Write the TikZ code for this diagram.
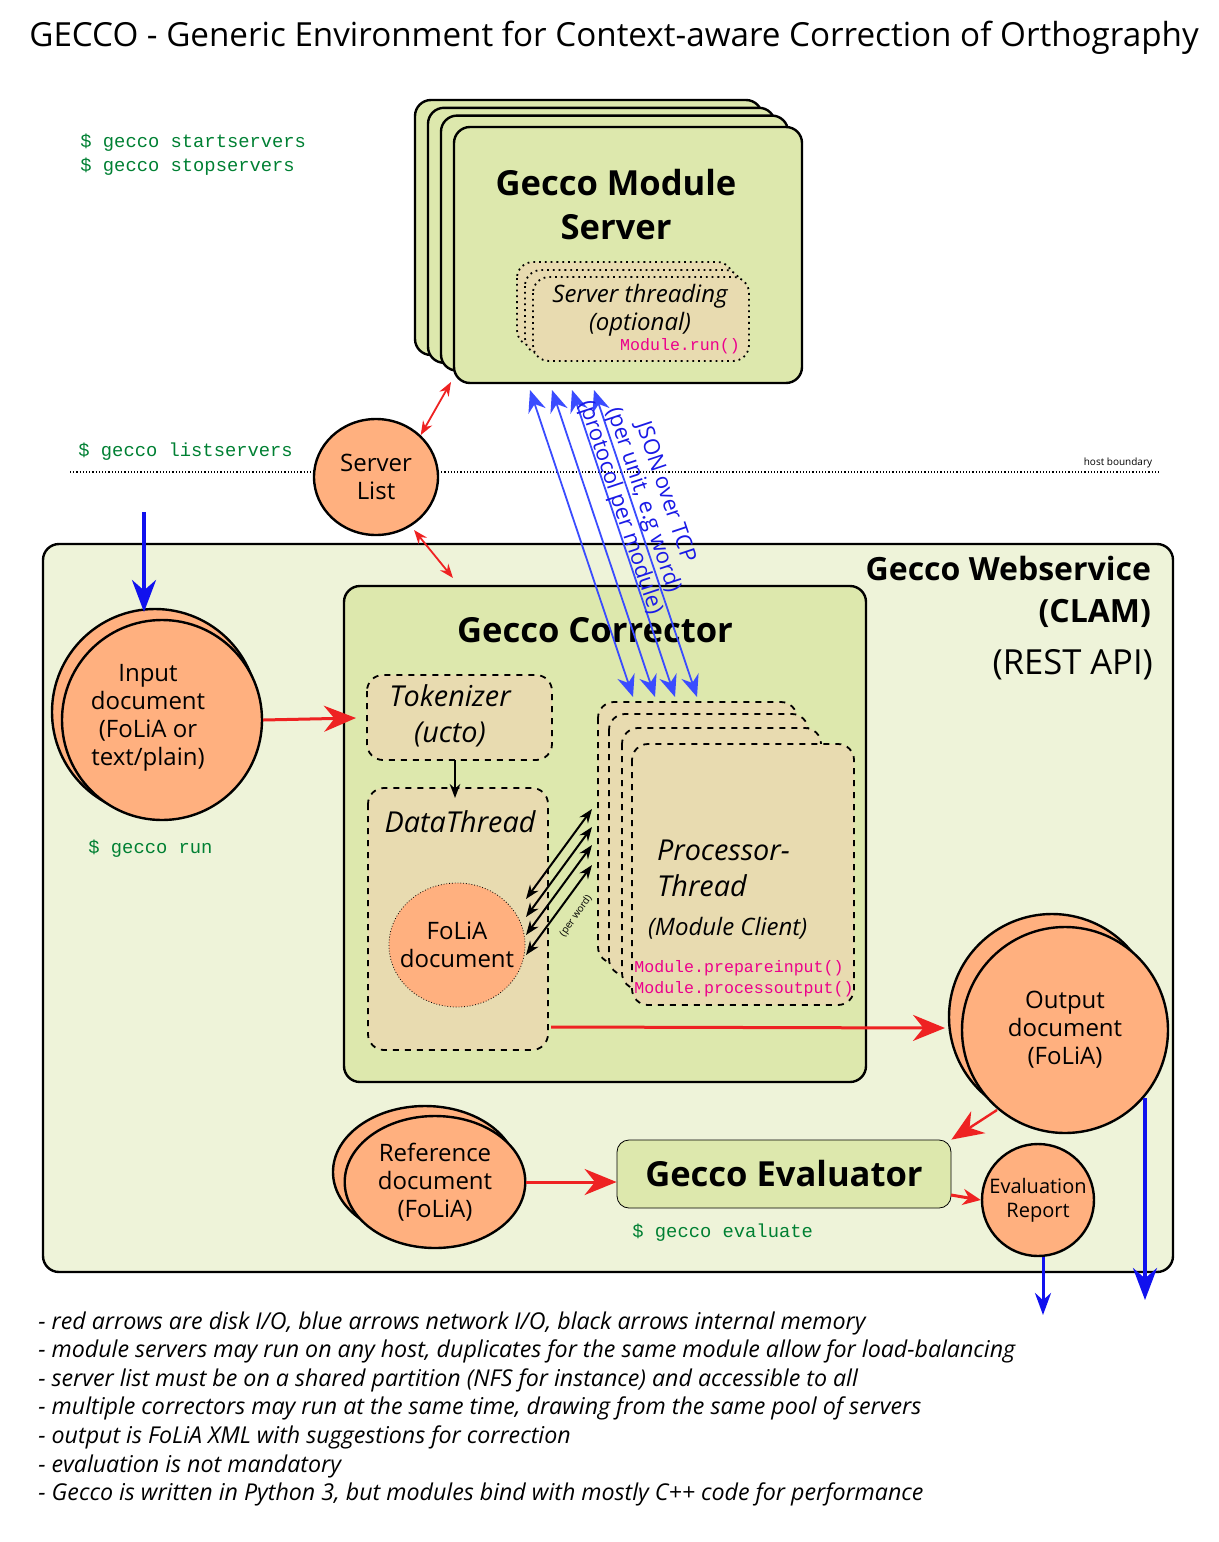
\documentclass[tikz,border=0pt]{standalone}
\usepackage{fontspec}
\setmainfont{Open Sans}
\setmonofont{Liberation Mono}
\usetikzlibrary{positioning,calc,arrows,arrows.meta,shapes.geometric}
\definecolor{wsbg}{HTML}{EEF3D9}
\definecolor{boxgreen}{HTML}{DDE8AD}
\definecolor{tan}{HTML}{E8DBB0}
\definecolor{docorange}{HTML}{FFB07F}
\definecolor{cmdgreen}{HTML}{008033}
\definecolor{netblue}{HTML}{3A4CFF}
\definecolor{lblblue}{HTML}{1A1AE6}
\definecolor{bigblue}{HTML}{1111EE}
\definecolor{diskred}{HTML}{EE2222}
\tikzset{
	box/.style={draw, line width=1.2pt, rounded corners=8pt},
	thread/.style={draw, dashed, line width=0.9pt, fill=tan, rounded corners=8pt},
	doc/.style={draw, line width=1.2pt, fill=docorange},
	cmd/.style={text=cmdgreen, font=\ttfamily\fontsize{9.4}{11}\selectfont, anchor=west, inner sep=0pt},
	call/.style={text=magenta, font=\ttfamily\fontsize{8.3}{10.4}\selectfont, inner sep=0pt},
	netlbl/.style={text=lblblue, rotate=-71.5, font=\fontsize{11}{13}\selectfont},
	disk/.style={diskred, line width=1.5pt, -{Stealth[length=16pt,width=13pt]}},
	diskthin/.style={diskred, line width=0.9pt, {Stealth[length=7pt]}-{Stealth[length=7pt]}},
	net/.style={netblue, line width=0.9pt, {Stealth[length=11pt,width=9pt]}-{Stealth[length=11pt,width=9pt]}},
	netbig/.style={bigblue, line width=2pt, -{Stealth[length=16pt,width=12pt]}},
	mem/.style={black, line width=1pt, {Stealth[length=7pt]}-{Stealth[length=7pt]}},
}
\begin{document}
\begin{tikzpicture}[x=0.5pt, y=-0.5pt]
	\useasboundingbox (0,0) rectangle (1219,1542);
	\node[font=\fontsize{16.6}{20}\selectfont] (title) at (614,38) {GECCO - Generic Environment for Context-aware Correction of Orthography};

	% commands
	\node[cmd] (startcmd) at (80,143) {\$ gecco startservers};
	\node[cmd] (stopcmd) at (80,167) {\$ gecco stopservers};
	\node[cmd] (listcmd) at (78,452) {\$ gecco listservers};

	% module servers
	\foreach \d in {0,13,26} {
		\filldraw[box, fill=boxgreen] (415+\d,100+\d*0.6) rectangle (762+\d,355+\d*0.6);
	}
	\filldraw[box, fill=boxgreen] (454,127) rectangle (802,383);
	\node[font=\LARGE\bfseries, align=center] (modsrv) at (616,205) {Gecco Module\\Server};
	\foreach \d in {0,8} {
		\filldraw[thread, dotted] (517+\d,262+\d) rectangle (733+\d,346+\d);
	}
	\filldraw[thread, dotted] (533,277) rectangle (749,361);
	\node[font=\large\itshape, align=center] (srvthread) at (640,310) {Server threading\\(optional)};
	\node[call] (modrun) at (680,346) {Module.run()};

	% host boundary
	\draw[densely dotted, line width=0.6pt] (70,472) -- (1160,472);
	\node[font=\tiny] (hostlbl) at (1118,463) {host boundary};

	% webservice
	\filldraw[box, fill=wsbg] (43,544) rectangle (1173,1272);
	\node[font=\fontsize{16}{21}\selectfont\bfseries, align=right, anchor=north east] (ws) at (1158,549) {Gecco Webservice\\(CLAM)};
	\node[font=\LARGE, anchor=east] (rest) at (1160,665) {(REST API)};

	% server list
	\node[doc, ellipse, minimum width=62pt, minimum height=58pt, align=center, font=\large] (slist) at (376,477) {Server\\List};

	% corrector
	\filldraw[box, fill=boxgreen] (344,586) rectangle (866,1082);
	\node[font=\LARGE\bfseries] (corr) at (595,630) {Gecco Corrector};
	\filldraw[thread] (367,675) rectangle (552,760);
	\node[font=\Large\itshape, align=center] (tok) at (450,716) {Tokenizer\\(ucto)};
	\filldraw[thread] (368,788) rectangle (548,1050);
	\node[font=\Large\itshape] (dthread) at (460,822) {DataThread};
	\node[draw, densely dotted, ellipse, fill=docorange, minimum width=68pt, minimum height=62pt, inner sep=0pt] (foliadoc) at (457,945) {};
	\node[align=center, font=\large] (folialbl) at (foliadoc) {FoLiA\\document};
	\coordinate (tokout) at (455,760);
	\coordinate (dthin) at (455,798);
	\draw[black, line width=1pt, -{Stealth[length=7pt]}] (tokout) -- (dthin);

	% processor threads
	\foreach \d/\e in {0/0,11/12,24/26} {
		\filldraw[thread] (598+\d,702+\e) rectangle (797+\d,963+\e);
	}
	\filldraw[thread] (632,744) rectangle (854,1005);
	\node[font=\Large\itshape, align=left, anchor=west] (proc) at (650,868) {Processor-\\Thread};
	\node[font=\large\itshape, anchor=west] (modclient) at (641,928) {(Module Client)};
	\node[call, align=left, anchor=west] (modcalls) at (634,979) {Module.prepareinput()\\Module.processoutput()};

	% internal memory
	\foreach \i/\y in {1/899,2/917,3/935,4/955} {
		\coordinate (m\i a) at (526,\y);
		\coordinate (m\i b) at (592,\y-90);
		\draw[mem] (m\i a) -- (m\i b);
	}
	\node[font=\tiny, rotate=55] (perword) at (576,916) {(per word)};

	% network
	\foreach \i/\x in {1/530,2/552,3/572,4/594} {
		\coordinate (n\i a) at (\x,390);
		\coordinate (n\i b) at (\x+103,697);
		\draw[net] (n\i a) -- (n\i b);
	}
	\node[netlbl] (jsonlbl) at (665,492) {JSON over TCP};
	\node[netlbl] (unitlbl) at (643,500) {(per unit, e.g word)};
	\node[netlbl] (protolbl) at (620,508) {(protocol per module)};

	% input/output docs
	\node[doc, circle, minimum size=103pt] (inback) at (155,712) {};
	\node[doc, circle, minimum size=100pt, align=center, font=\large] (indoc) at (162,720) {};
	\node[align=center, font=\large] (inlbl) at (148,718) {Input\\document\\(FoLiA or\\text/plain)};
	\node[cmd] (runcmd) at (88,849) {\$ gecco run};
	\node[doc, circle, minimum size=103pt] (outback) at (1052,1017) {};
	\node[doc, circle, minimum size=103pt, align=center, font=\large] (outdoc) at (1065,1030) {Output\\document\\(FoLiA)};

	% evaluation
	\node[doc, ellipse, minimum width=92pt, minimum height=66pt] (refback) at (425,1172) {};
	\node[doc, ellipse, minimum width=90pt, minimum height=66pt, align=center, font=\large] (refdoc) at (435,1182) {Reference\\document\\(FoLiA)};
	\node[draw, fill=boxgreen, rounded corners=6pt, minimum width=167pt, minimum height=34pt, font=\LARGE\bfseries] (eval) at (784,1174) {Gecco Evaluator};
	\node[cmd] (evalcmd) at (632,1233) {\$ gecco evaluate};
	\node[doc, circle, minimum size=56pt, align=center, inner sep=0pt] (report) at (1038,1200) {Evaluation\\Report};

	% disk I/O
	\draw[disk] (indoc.east) -- (356,718);
	\coordinate (dtout) at (551,1027);
	\coordinate (outin) at (945,1028);
	\draw[disk] (dtout) -- (outin);
	\coordinate (outbot) at (997,1110);
	\draw[disk, line width=1.2pt] (outbot) -- (eval.north east);
	\draw[disk, -{Stealth[length=9pt,width=8pt]}] (951,1195) -- (report.west);
	\draw[disk] (refdoc.east) -- (refdoc.east -| eval.west);
	\coordinate (srvbot) at (451,382);
	\coordinate (corrtop) at (453,578);
	\draw[diskthin] (slist.north east) -- (srvbot);
	\draw[diskthin] (414,530) -- (corrtop);

	% network I/O in and out
	\coordinate (inin) at (144,512);
	\draw[netbig] (inin) -- (144,612);
	\coordinate (outout) at (1145,1300);
	\draw[netbig] (1145,1098) -- (outout);
	\coordinate (repout) at (1043,1315);
	\draw[netbig, line width=1.5pt, -{Stealth[length=11pt,width=8pt]}] (report.south -| repout) -- (repout);

	% notes
	\node[font=\itshape\fontsize{11.6}{14.3}\selectfont, align=left, anchor=north west, inner sep=0pt] (notes) at (38,1311) {- red arrows are disk I/O, blue arrows network I/O, black arrows internal memory\\
	- module servers may run on any host, duplicates for the same module allow for load-balancing\\
	- server list must be on a shared partition (NFS for instance) and accessible to all\\
	- multiple correctors may run at the same time, drawing from the same pool of servers\\
	- output is FoLiA XML with suggestions for correction\\
	- evaluation is not mandatory\\
	- Gecco is written in Python 3, but modules bind with mostly C++ code for performance};
\end{tikzpicture}
\end{document}
